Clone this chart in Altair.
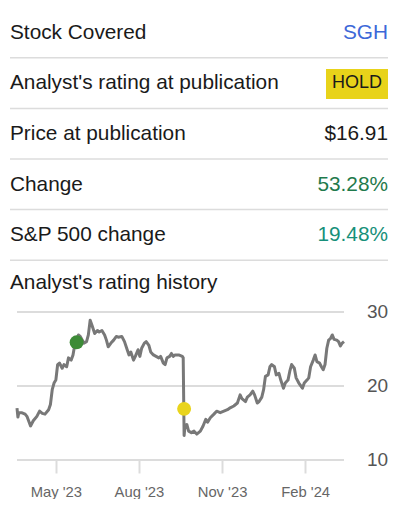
import altair as alt
import pandas as pd

FONT = "Liberation Sans"

# ---- summary table ----
rows = ["Stock Covered", "Analyst's rating at publication", "Price at publication",
        "Change", "S&P 500 change"]
values = ["SGH", "HOLD", "$16.91", "53.28%", "19.48%"]
value_colors = ["#3d68d8", "#1a1a1a", "#1a1a1a", "#1f7a4c", "#17907a"]
history_title = "Analyst's rating history"

# ---- price history ----
dates = [
    "2023-03-19", "2023-03-20", "2023-03-21", "2023-03-24", "2023-03-28", "2023-03-30",
    "2023-04-03", "2023-04-06", "2023-04-10", "2023-04-13", "2023-04-16", "2023-04-19",
    "2023-04-23", "2023-04-25", "2023-04-27", "2023-04-29", "2023-05-01", "2023-05-03",
    "2023-05-05", "2023-05-08", "2023-05-10", "2023-05-13", "2023-05-15", "2023-05-18",
    "2023-05-20", "2023-05-21", "2023-05-24", "2023-05-26", "2023-05-28", "2023-06-01",
    "2023-06-04", "2023-06-06", "2023-06-08", "2023-06-10", "2023-06-13", "2023-06-16",
    "2023-06-18", "2023-06-21", "2023-06-24", "2023-06-26", "2023-06-28", "2023-07-01",
    "2023-07-04", "2023-07-07", "2023-07-09", "2023-07-13", "2023-07-16", "2023-07-19",
    "2023-07-21", "2023-07-23", "2023-07-26", "2023-07-28", "2023-07-31", "2023-08-02",
    "2023-08-04", "2023-08-07", "2023-08-09", "2023-08-12", "2023-08-14", "2023-08-17",
    "2023-08-20", "2023-08-23", "2023-08-25", "2023-08-28", "2023-08-30", "2023-09-01",
    "2023-09-04", "2023-09-06", "2023-09-08", "2023-09-10", "2023-09-14", "2023-09-18",
    "2023-09-19", "2023-09-20", "2023-09-21", "2023-09-23", "2023-09-25", "2023-09-28",
    "2023-10-01", "2023-10-04", "2023-10-08", "2023-10-11", "2023-10-14", "2023-10-16",
    "2023-10-19", "2023-10-23", "2023-10-26", "2023-10-30", "2023-11-03", "2023-11-07",
    "2023-11-10", "2023-11-14", "2023-11-18", "2023-11-21", "2023-11-23", "2023-11-27",
    "2023-11-29", "2023-12-02", "2023-12-05", "2023-12-07", "2023-12-10", "2023-12-12",
    "2023-12-15", "2023-12-17", "2023-12-19", "2023-12-22", "2023-12-24", "2023-12-26",
    "2023-12-29", "2023-12-31", "2024-01-03", "2024-01-05", "2024-01-08", "2024-01-10",
    "2024-01-13", "2024-01-15", "2024-01-17", "2024-01-20", "2024-01-22", "2024-01-25",
    "2024-01-29", "2024-01-31", "2024-02-03", "2024-02-05", "2024-02-07", "2024-02-10",
    "2024-02-12", "2024-02-14", "2024-02-17", "2024-02-19", "2024-02-21", "2024-02-23",
    "2024-02-25", "2024-02-27", "2024-02-29", "2024-03-02", "2024-03-04", "2024-03-07",
    "2024-03-09", "2024-03-11", "2024-03-13", "2024-03-15",
]
prices = [
    17.0, 15.8, 16.4, 16.4, 16.2, 15.9,
    14.6, 15.3, 15.9, 16.6, 16.3, 16.2,
    16.8, 17.5, 19.5, 20.4, 20.8, 22.9,
    23.1, 22.4, 22.9, 22.6, 23.8, 23.5,
    24.2, 24.9, 26.2, 26.9, 26.7, 25.8,
    26.0, 26.9, 28.9, 28.2, 27.1, 27.5,
    27.3, 27.5, 26.9, 26.2, 25.3, 25.8,
    26.2, 26.7, 26.6, 26.7, 26.0, 24.9,
    24.2, 24.6, 23.5, 24.0, 24.9, 24.0,
    25.1, 25.8, 26.0, 25.5, 24.6, 24.2,
    24.0, 23.8, 24.0, 23.1, 22.9, 23.8,
    24.0, 24.4, 24.0, 24.2, 24.2, 24.0,
    23.8, 13.3, 14.6, 14.8, 13.9, 13.7,
    13.9, 13.5, 13.9, 14.6, 15.5, 15.1,
    15.7, 16.2, 16.6, 16.4, 16.6, 16.8,
    17.05, 17.3, 17.7, 18.8, 18.3, 17.9,
    18.5, 18.8, 19.3, 18.8, 17.7, 17.9,
    18.5, 19.5, 21.3, 21.5, 22.6, 22.9,
    22.6, 21.5, 21.7, 20.8, 19.7, 20.4,
    20.8, 22.0, 22.9, 22.4, 21.1, 20.4,
    19.7, 20.4, 20.8, 21.1, 22.6, 23.5,
    24.2, 23.3, 23.1, 22.6, 22.2, 22.9,
    25.1, 26.2, 26.4, 26.9, 26.3, 26.2,
    26.0, 25.4, 25.8, 26.0,
]

rating_dates = ["2023-05-24", "2023-09-20"]
rating_prices = [25.9, 16.91]
rating_colors = ["#3d8b37", "#e9d41c"]

y_ticks = [10, 20, 30]

table_df = pd.DataFrame({"row": rows, "value": values, "vcolor": value_colors})
price_df = pd.DataFrame({"date": dates, "price": prices})
dots_df = pd.DataFrame({"date": rating_dates, "price": rating_prices, "color": rating_colors})
ticks_df = pd.DataFrame({"v": y_ticks})
title_df = pd.DataFrame({"t": [history_title]})

row_y = alt.Y("row:N", sort=rows, axis=None,
              scale=alt.Scale(type="point", domain=rows, range=[24.8, 227.2], padding=0))

base_t = alt.Chart(table_df)
labels = base_t.mark_text(align="left", baseline="middle", font=FONT, fontSize=20.8,
                          color="#1a1a1a").encode(x=alt.value(2), y=row_y, text="row:N")
vals = base_t.transform_filter("datum.value != 'HOLD'").mark_text(
    align="right", baseline="middle", font=FONT, fontSize=20.8).encode(
    x=alt.value(380), y=row_y, text="value:N", color=alt.Color("vcolor:N", scale=None))
seps = base_t.mark_rule(color="#dcdcdc", strokeWidth=1.5, yOffset=25).encode(
    x=alt.value(2), x2=alt.value(380), y=row_y)
badge = base_t.transform_filter("datum.value == 'HOLD'").mark_rect(color="#e8d31a").encode(
    x=alt.value(318), x2=alt.value(380), y=alt.value(61), y2=alt.value(91))
badge_text = base_t.transform_filter("datum.value == 'HOLD'").mark_text(
    align="center", baseline="middle", font=FONT, fontSize=18, color="#1a1a1a").encode(
    x=alt.value(349), y=row_y, text="value:N")
table = alt.layer(seps, labels, vals, badge, badge_text)

title = alt.Chart(title_df).mark_text(align="left", baseline="middle", font=FONT,
                                      fontSize=20.8, color="#1a1a1a").encode(
    x=alt.value(2), y=alt.value(275), text="t:N")

x_scale = alt.Scale(type="utc",
                    domain=[alt.DateTime(year=2023, month=3, date=19, utc=True),
                            alt.DateTime(year=2024, month=3, date=15, utc=True)],
                    range=[9, 336])
y_scale = alt.Scale(domain=[10, 30], range=[452, 304])

x_axis = alt.Axis(
    values=[alt.DateTime(year=2023, month=5, date=1, utc=True),
            alt.DateTime(year=2023, month=8, date=1, utc=True),
            alt.DateTime(year=2023, month=11, date=1, utc=True),
            alt.DateTime(year=2024, month=2, date=1, utc=True)],
    format="%b '%y", title=None, domain=False, grid=False,
    ticks=True, tickColor="#dcdcdc", tickSize=13, tickWidth=2,
    labelFont=FONT, labelFontSize=14.8, labelColor="#666666", labelPadding=11)

grid = alt.Chart(ticks_df).mark_rule(color="#dcdcdc", strokeWidth=2).encode(
    x=alt.value(9), x2=alt.value(336), y=alt.Y("v:Q", scale=y_scale, axis=None))
ylab = alt.Chart(ticks_df).mark_text(align="left", baseline="middle", font=FONT,
                                     fontSize=19, color="#555555").encode(
    x=alt.value(359), y=alt.Y("v:Q", scale=y_scale, axis=None), text="v:Q")
line = alt.Chart(price_df).mark_line(color="#787878", strokeWidth=3,
                                     strokeJoin="round").encode(
    x=alt.X("date:T", scale=x_scale, axis=x_axis),
    y=alt.Y("price:Q", scale=y_scale, axis=None))
dots = alt.Chart(dots_df).mark_circle(size=195, opacity=1).encode(
    x=alt.X("date:T", scale=x_scale, axis=x_axis),
    y=alt.Y("price:Q", scale=y_scale, axis=None),
    color=alt.Color("color:N", scale=None))
price = alt.layer(grid, ylab, line, dots)

chart = alt.layer(table, title, price).resolve_scale(
    x="independent", y="independent").properties(
    width=381, height=452, padding=0).configure_view(stroke=None)

chart.save("out.html", embed_options={"renderer": "svg", "actions": False})
